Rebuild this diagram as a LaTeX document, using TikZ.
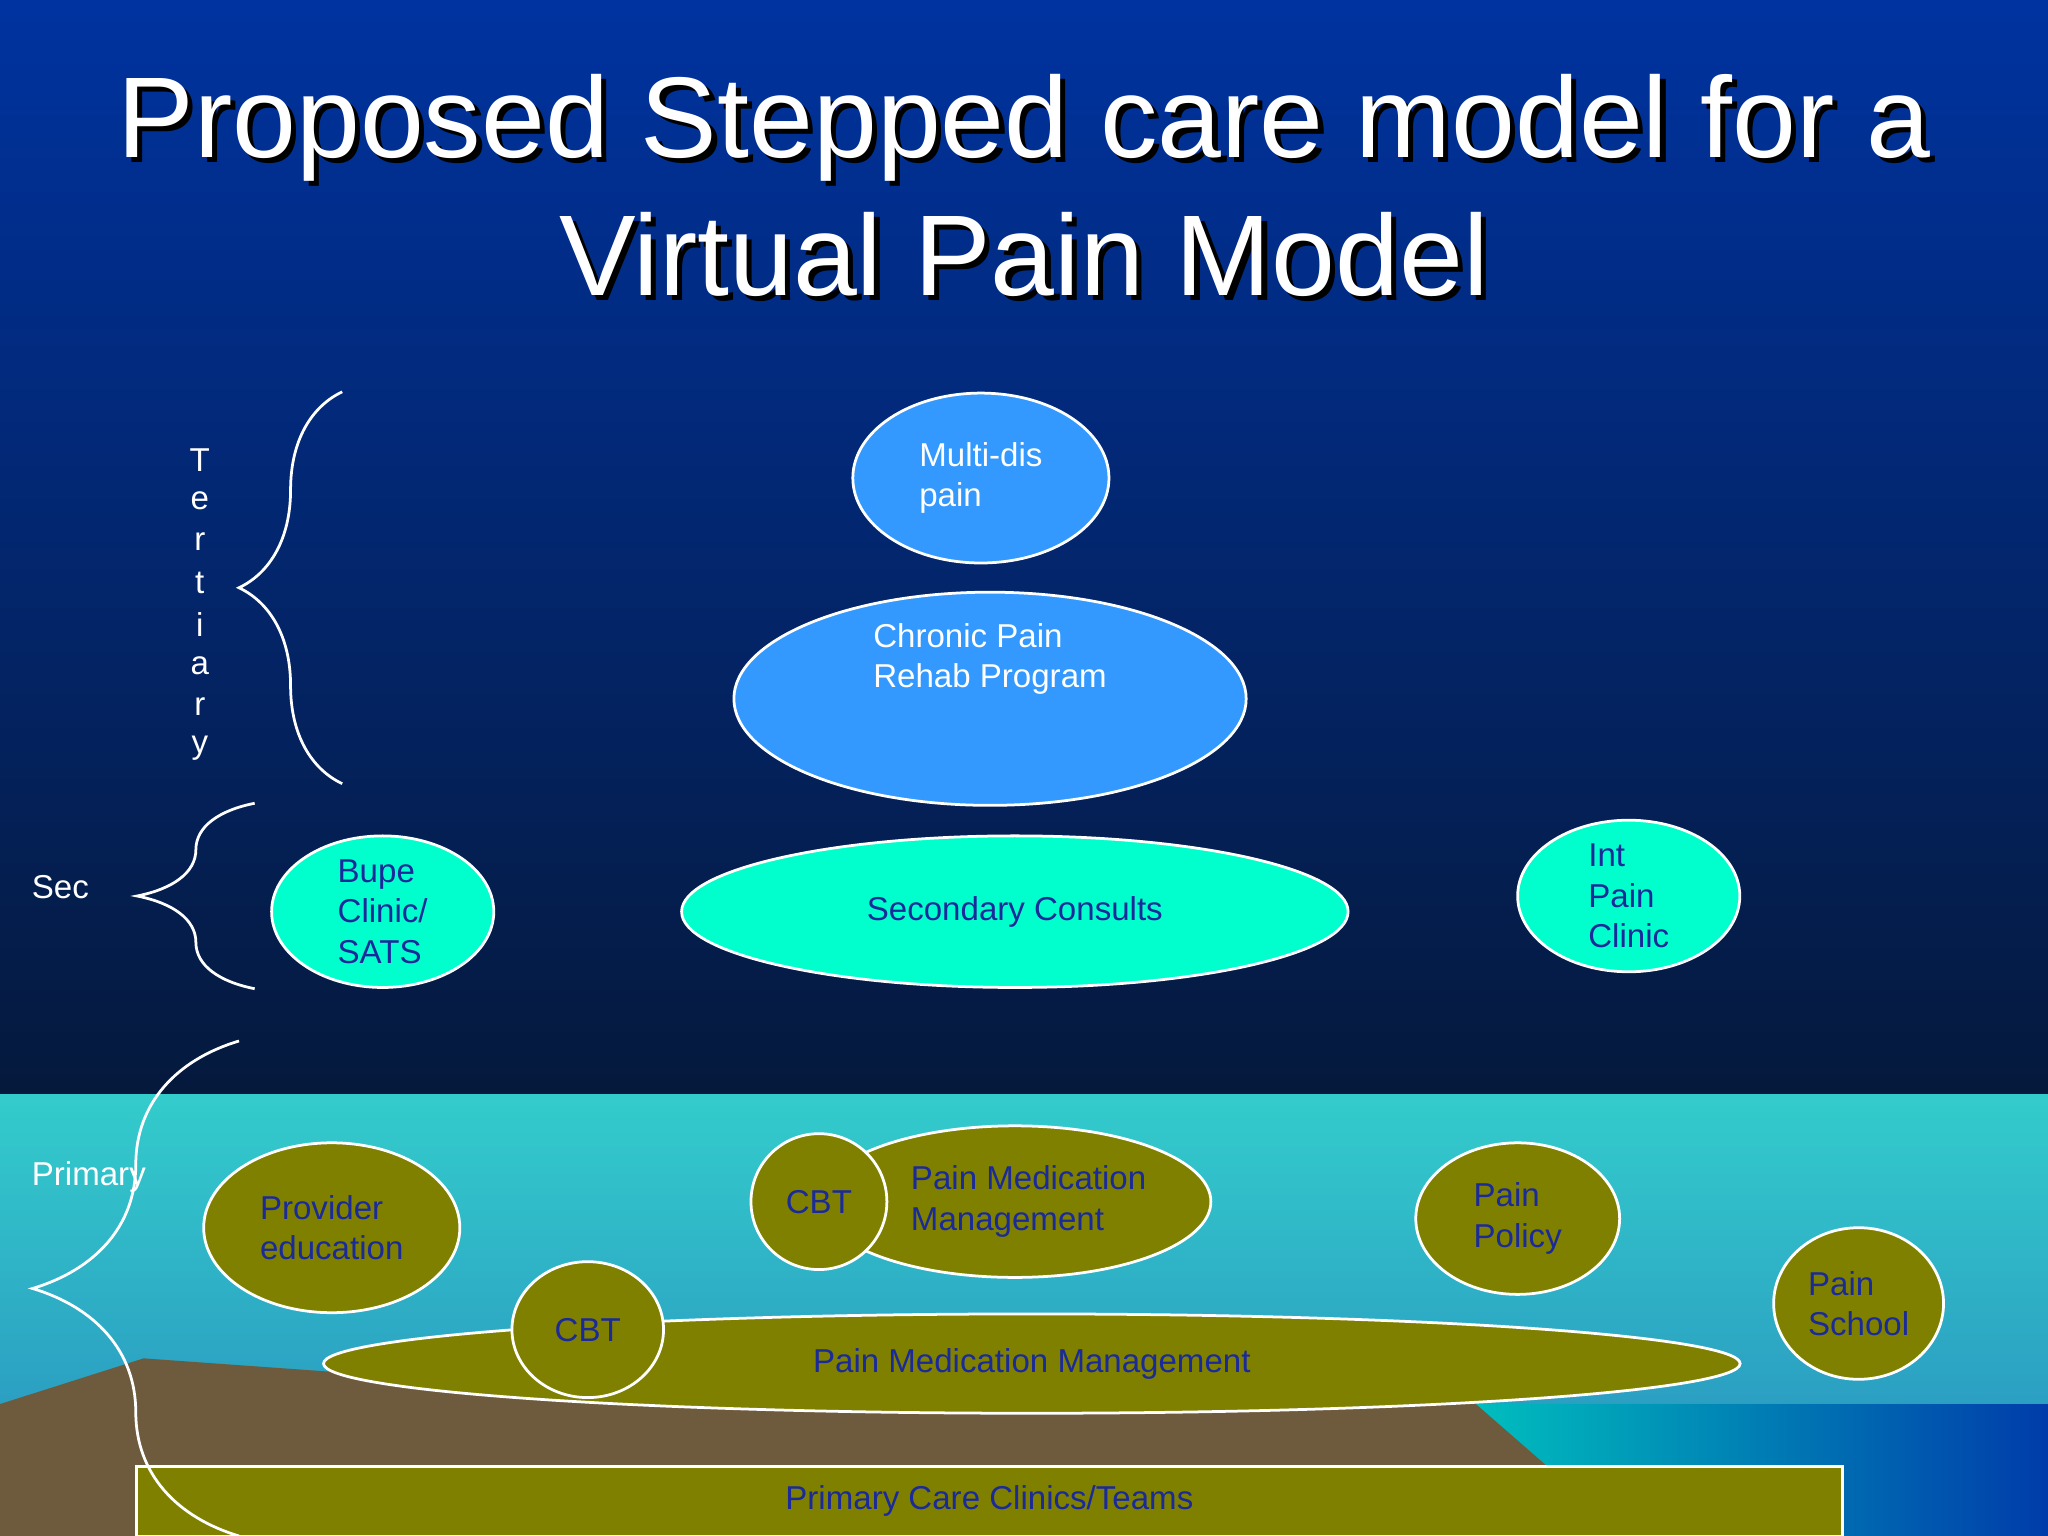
\documentclass[tikz,border=0pt]{standalone}
\usepackage{fontspec}
\setmainfont{Liberation Sans}
\usetikzlibrary{shapes.geometric, decorations.pathreplacing, positioning}
\definecolor{skyblue}{HTML}{3399FF}
\definecolor{aqua}{HTML}{00FFCC}
\definecolor{olivefill}{HTML}{808000}
\definecolor{navytext}{HTML}{1A2A99}
\definecolor{band}{HTML}{33CCCC}
\definecolor{bandlow}{HTML}{288CBE}
\definecolor{skytop}{HTML}{0033A0}
\definecolor{skylow}{HTML}{05193C}
\definecolor{seaA}{HTML}{00BEBE}
\definecolor{seaB}{HTML}{003CAA}
\definecolor{rock}{HTML}{6E5A3C}
\begin{document}
\begin{tikzpicture}[x=0.01cm, y=-0.01cm,
    tier/.style={ellipse, draw=white, line width=0.6pt, inner sep=0pt, font=\fontsize{7.2}{8.8}\selectfont, align=left},
    top/.style={tier, fill=skyblue, text=white},
    sec/.style={tier, fill=aqua, text=navytext},
    prim/.style={tier, fill=olivefill, text=navytext},
    brc/.style={draw=white, line width=0.6pt, decorate},
    side/.style={text=white, font=\fontsize{7.2}{8.8}\selectfont}]
  % background
  \useasboundingbox (0,0) rectangle (1568,1176);
  \shade[top color=skytop, bottom color=skylow] (0,0) rectangle (1568,838);
  \shade[top color=band, bottom color=bandlow] (0,838) rectangle (1568,1176);
  \shade[left color=seaA, right color=seaB] (1130,1075) rectangle (1568,1176);
  \fill[rock] (0,1176) -- (0,1075) -- (110,1040) -- (250,1050) -- (1130,1075) -- (1185,1123) -- (1410,1123) -- (1410,1176) -- cycle;
  % title
  \foreach \dx/\col in {4/black, 0/white}
    \node[text=\col, font=\fontsize{25}{30}\selectfont, align=center] (title) at (784+\dx,142+\dx) {Proposed Stepped care model for a\\Virtual Pain Model};
  % tertiary
  \node[top, minimum width=1.96cm, minimum height=1.3cm] (multi) at (751,366) {Multi-dis\\pain};
  \node[top, minimum width=3.92cm, minimum height=1.56cm] (rehab) at (758,535) {Chronic Pain\\Rehab Program\\[10pt]};
  % secondary
  \node[sec, minimum width=1.7cm, minimum height=1.16cm] (bupe) at (293,698) {Bupe\\Clinic/\\SATS};
  \node[sec, minimum width=5.1cm, minimum height=1.16cm] (consult) at (777,698) {Secondary Consults};
  \node[sec, minimum width=1.7cm, minimum height=1.16cm] (intpain) at (1247,686) {Int\\Pain\\Clinic};
  % primary
  \node[prim, minimum width=1.96cm, minimum height=1.3cm] (provider) at (254,940) {Provider\\education};
  \node[prim, minimum width=3cm, minimum height=1.16cm] (medtop) at (777,920) {\hspace*{6pt}Pain Medication\\\hspace*{6pt}Management};
  \node[prim, circle, minimum size=1.04cm] (cbttop) at (627,920) {CBT};
  \node[prim, minimum width=1.56cm, minimum height=1.16cm] (policy) at (1162,933) {Pain\\Policy};
  \node[prim, minimum width=1.3cm, minimum height=1.16cm] (school) at (1423,998) {Pain\\School};
  \node[prim, minimum width=10.84cm, minimum height=0.76cm] (medbig) at (790,1044) {Pain Medication Management};
  \node[prim, minimum width=1.16cm, minimum height=1.04cm] (cbtbig) at (450,1018) {CBT};
  \node[draw=white, line width=0.6pt, fill=olivefill, text=navytext, minimum width=13.05cm, minimum height=0.53cm, inner sep=0pt, font=\fontsize{7.2}{8.8}\selectfont] (clinics) at (757.5,1149.5) {Primary Care Clinics/Teams};
  % braces
  \coordinate (tA) at (262,600); \coordinate (tB) at (262,300);
  \draw[brc, decoration={brace, amplitude=0.79cm}] (tA) -- (tB);
  \coordinate (sA) at (195,757); \coordinate (sB) at (195,615);
  \draw[brc, decoration={brace, amplitude=0.9cm}] (sA) -- (sB);
  \coordinate (pA) at (183,1176); \coordinate (pB) at (183,797);
  \draw[brc, decoration={brace, amplitude=1.58cm}] (pA) -- (pB);
  % side labels
  \foreach \ch [count=\i from 0] in {T,e,r,t,i,a,r,y}
    \node[side] at (153,352+31.5*\i) {\ch};
  \node[side, anchor=west] (seclab) at (12,679) {Sec};
  \node[side, anchor=west] (primlab) at (12,901) {Primary};
\end{tikzpicture}
\end{document}
